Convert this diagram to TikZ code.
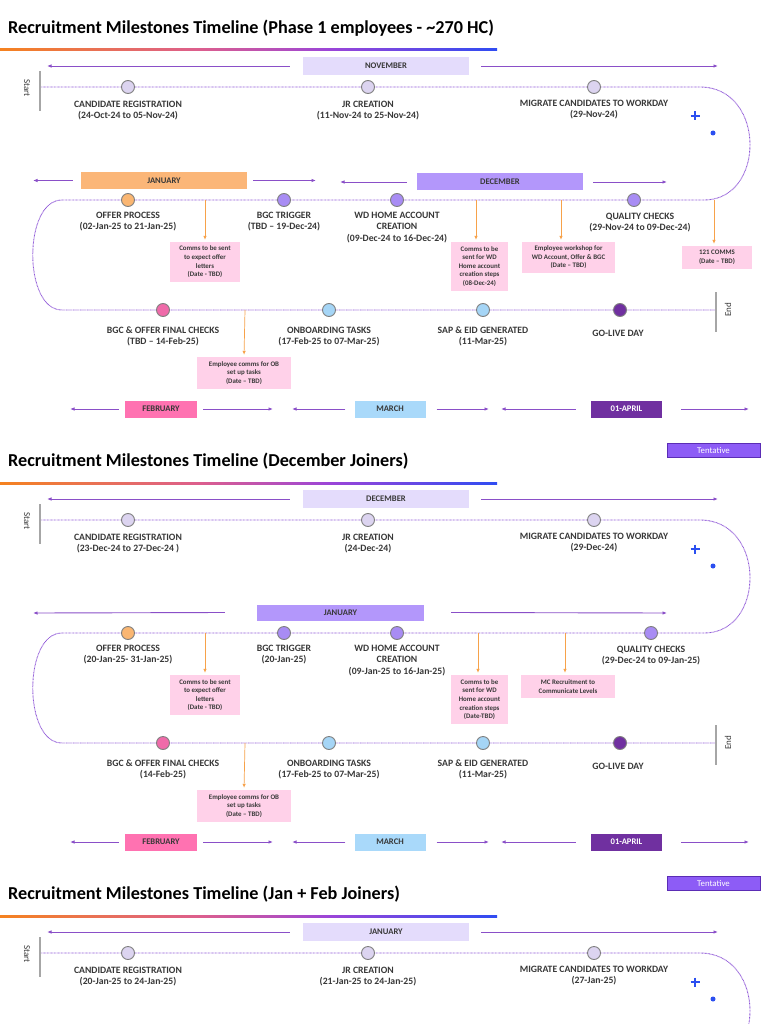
\documentclass[tikz,border=0pt]{standalone}
\usepackage{fontspec}
\setmainfont{Carlito}
\usetikzlibrary{arrows.meta}
\definecolor{gOrange}{HTML}{F5821F}
\definecolor{gPink}{HTML}{DC5E8E}
\definecolor{gPurple}{HTML}{9B45D8}
\definecolor{gBlue}{HTML}{2F4CF2}
\definecolor{lavbox}{HTML}{E4DCFC}
\definecolor{lavnode}{HTML}{DCD4F0}
\definecolor{nodeline}{HTML}{7F7F7F}
\definecolor{orangebox}{HTML}{FBB678}
\definecolor{orangenode}{HTML}{FAB672}
\definecolor{purplebox}{HTML}{B397FB}
\definecolor{purplenode}{HTML}{A88CF4}
\definecolor{pinknode}{HTML}{EF6AA9}
\definecolor{pinkbox}{HTML}{FF72B1}
\definecolor{bluebox}{HTML}{A9D9FA}
\definecolor{bluenode}{HTML}{A5D5F6}
\definecolor{darkpurple}{HTML}{7030A0}
\definecolor{notepink}{HTML}{FFD1E9}
\definecolor{orangearr}{HTML}{F7A24A}
\definecolor{linepurple}{HTML}{9058D8}
\definecolor{arrowpurple}{HTML}{8A4FC8}
\definecolor{tentfill}{HTML}{8D5CF6}
\definecolor{tentdraw}{HTML}{5B2DB5}
\definecolor{plusblue}{HTML}{2B4FF0}
\definecolor{bargray}{HTML}{A6A6A6}
\definecolor{txt}{HTML}{383838}
\tikzset{
  ttl/.style={anchor=west, inner sep=0pt, text=black, font=\bfseries\fontsize{18.2}{21}\selectfont},
  lbl/.style={anchor=north, inner sep=0pt, align=center, text=txt, font=\bfseries\fontsize{9.7}{11.5}\selectfont},
  ms/.style={circle, draw=nodeline, line width=0.9pt, minimum size=13pt, inner sep=0pt},
  monthbox/.style={inner sep=0pt, text=txt, font=\bfseries\fontsize{8.6}{10}\selectfont},
  note/.style={fill=notepink, inner sep=0pt, align=center, text=txt, font=\bfseries\fontsize{6.9}{8.6}\selectfont},
  marr/.style={draw=arrowpurple, line width=0.9pt, -{Latex[length=4.5pt,width=3.5pt]}},
  oarr/.style={draw=orangearr, line width=0.7pt, shorten >=2pt, -{Latex[length=4pt,width=3.5pt]}},
  tl/.style={draw=linepurple, line width=0.9pt, dash pattern=on 0.8pt off 0.6pt},
  barline/.style={draw=bargray, line width=1.3pt},
  sidelbl/.style={inner sep=0pt, text=txt, font=\fontsize{9}{10}\selectfont},
  tent/.style={fill=tentfill, draw=tentdraw, line width=1pt, text=white, inner sep=0pt,
    minimum width=93pt, minimum height=14pt, font=\fontsize{8.8}{10}\selectfont},
  plusmark/.style={draw=plusblue, line width=1.3pt},
}
\newcommand{\sectop}[6]{%
  \node[ttl] (#1title) at (8,28) {#2};
  \shade[left color=gOrange, right color=gPink] (0,49) rectangle (200,51);
  \shade[left color=gPink, right color=gPurple] (200,49) rectangle (330,51);
  \shade[left color=gPurple, right color=gBlue] (330,49) rectangle (497,51);
  \coordinate (#1stA) at (40,71); \coordinate (#1stB) at (40,111);
  \draw[barline] (#1stA) -- (#1stB);
  \node[sidelbl, rotate=-90] (#1startlbl) at (27,88) {Start};
  \node[monthbox, fill=lavbox, minimum width=166pt, minimum height=18pt] (#1mA) at (386,66) {#3};
  \coordinate (#1mAl) at (47,66); \coordinate (#1mAr) at (718,66);
  \draw[marr] ([xshift=-13pt]#1mA.west) -- (#1mAl);
  \draw[marr] ([xshift=12pt]#1mA.east) -- (#1mAr);
  \node[ms, fill=lavnode] (#1cr) at (128,87) {};
  \node[lbl] (#1crl) at (128,100.5) {CANDIDATE REGISTRATION\\#4};
  \node[ms, fill=lavnode] (#1jr) at (368,87) {};
  \node[lbl] (#1jrl) at (368,100.5) {JR CREATION\\#5};
  \node[ms, fill=lavnode] (#1mg) at (594,87) {};
  \node[lbl] (#1mgl) at (594,99.5) {MIGRATE CANDIDATES TO WORKDAY\\#6};
  \draw[plusmark] (690.5,116) -- (699.5,116) (695,111.5) -- (695,120.5);
  \fill[plusblue] (713,133) circle (2.5);
}
\newcommand{\monthsbottom}[1]{%
  \node[monthbox, fill=pinkbox, minimum width=72pt, minimum height=17pt] (#1feb) at (161,409) {FEBRUARY};
  \coordinate (#1febl) at (70,409); \coordinate (#1febr) at (273,409);
  \draw[marr] ([xshift=-6pt]#1feb.west) -- (#1febl);
  \draw[marr] ([xshift=6pt]#1feb.east) -- (#1febr);
  \node[monthbox, fill=bluebox, minimum width=71pt, minimum height=17pt] (#1mar) at (390,409) {MARCH};
  \coordinate (#1marl) at (292,409); \coordinate (#1marr) at (489,409);
  \draw[marr] ([xshift=-9pt]#1mar.west) -- (#1marl);
  \draw[marr] ([xshift=11pt]#1mar.east) -- (#1marr);
  \node[monthbox, fill=darkpurple, text=white, minimum width=71pt, minimum height=17pt] (#1apr) at (626.5,409) {01-APRIL};
  \coordinate (#1aprl) at (501,409); \coordinate (#1aprr) at (749,409);
  \draw[marr] ([xshift=-15pt]#1apr.west) -- (#1aprl);
  \draw[marr] ([xshift=19pt]#1apr.east) -- (#1aprr);
}
\newcommand{\rowthree}[2]{% prefix, bgc date line
  \coordinate (#1enA) at (716,292); \coordinate (#1enB) at (716,332);
  \draw[barline] (#1enA) -- (#1enB);
  \node[sidelbl, rotate=90] (#1endlbl) at (728,310) {End};
  \node[ms, fill=pinknode] (#1bo) at (163,310) {};
  \node[lbl] (#1bol) at (163,326.5) {BGC \& OFFER FINAL CHECKS\\#2};
  \node[ms, fill=bluenode] (#1ob) at (329,310) {};
  \node[lbl] (#1obl) at (329,326.5) {ONBOARDING TASKS\\(17-Feb-25 to 07-Mar-25)};
  \node[ms, fill=bluenode] (#1sap) at (483,310) {};
  \node[lbl] (#1sapl) at (483,326.5) {SAP \& EID GENERATED\\(11-Mar-25)};
  \node[ms, fill=darkpurple] (#1go) at (620,310) {};
  \node[lbl] (#1gol) at (618,329.5) {GO-LIVE DAY};
  \coordinate (#1o5) at (245,310);
  \node[note, minimum width=94pt, minimum height=32pt] (#1n5) at (244,373) {Employee comms for OB\\set up tasks\\(Date -- TBD)};
  \draw[oarr] (#1o5) -- (#1n5.north);
}
\begin{document}
\begin{tikzpicture}[x=1pt,y=-1pt]
\clip (0,0) rectangle (768,1024);
\fill[white] (0,0) rectangle (768,1024);

%================ SECTION 1 =================
\begin{scope}
  \coordinate (As) at (40,87); \coordinate (Ae) at (716,310);
  \draw[tl] (As) -- (700,87) .. controls (766,87) and (766,200) .. (704,200)
     -- (62,200) .. controls (23,200) and (23,310) .. (62,310) -- (Ae);
  \sectop{A}{Recruitment Milestones Timeline (Phase 1 employees - \textasciitilde270 HC)}{NOVEMBER}{(24-Oct-24 to 05-Nov-24)}{(11-Nov-24 to 25-Nov-24)}{(29-Nov-24)}
  % row 2 months
  \node[monthbox, fill=orangebox, minimum width=166pt, minimum height=17pt] (Ajan) at (164,180.5) {JANUARY};
  \coordinate (Ajanl) at (33,180.5); \coordinate (Ajanr) at (316,180.5);
  \draw[marr] ([xshift=-8pt]Ajan.west) -- (Ajanl);
  \draw[marr] ([xshift=6pt]Ajan.east) -- (Ajanr);
  \node[monthbox, fill=purplebox, minimum width=166pt, minimum height=17pt] (Adec) at (500,182) {DECEMBER};
  \coordinate (Adecl) at (340,182); \coordinate (Adecr) at (667,182);
  \draw[marr] ([xshift=-10pt]Adec.west) -- (Adecl);
  \draw[marr] ([xshift=10pt]Adec.east) -- (Adecr);
  % row 2 milestones
  \node[ms, fill=orangenode] (Aof) at (128,200) {};
  \node[lbl] (Aofl) at (128,211.5) {OFFER PROCESS\\(02-Jan-25 to 21-Jan-25)};
  \node[ms, fill=purplenode] (Abgc) at (284,200) {};
  \node[lbl] (Abgcl) at (284,211.5) {BGC TRIGGER\\(TBD -- 19-Dec-24)};
  \node[ms, fill=purplenode] (Awd) at (397,200) {};
  \node[lbl] (Awdl) at (397,211.5) {WD HOME ACCOUNT\\CREATION\\(09-Dec-24 to 16-Dec-24)};
  \node[ms, fill=purplenode] (Aqc) at (634,200) {};
  \node[lbl] (Aqcl) at (640,212.5) {QUALITY CHECKS\\(29-Nov-24 to 09-Dec-24)};
  % notes
  \coordinate (Ao1) at (205,200);
  \node[note, minimum width=70pt, minimum height=40pt] (An1) at (205,262) {Comms to be sent\\to expect offer\\letters\\(Date - TBD)};
  \draw[oarr] (Ao1) -- (An1.north);
  \coordinate (Ao2) at (476,200);
  \node[note, minimum width=57pt, minimum height=49pt] (An2) at (479.5,266.5) {Comms to be\\sent for WD\\Home account\\creation steps\\(08-Dec-24)};
  \draw[oarr] (Ao2) -- (Ao2 |- An2.north);
  \coordinate (Ao3) at (561,200);
  \node[note, minimum width=93pt, minimum height=31pt] (An3) at (568.5,257.5) {Employee workshop for\\WD Account, Offer \& BGC\\(Date -- TBD)};
  \draw[oarr] (Ao3) -- (Ao3 |- An3.north);
  \coordinate (Ao4) at (714,200);
  \node[note, minimum width=70pt, minimum height=23pt] (An4) at (717,257.5) {121 COMMS\\(Date -- TBD)};
  \draw[oarr] (Ao4) -- (Ao4 |- An4.north);
  \rowthree{A}{(TBD -- 14-Feb-25)}
  \monthsbottom{A}
  \node[tent] (Atent) at (713.5,450) {Tentative};
\end{scope}

%================ SECTION 2 =================
\begin{scope}[yshift=-433pt]
  \coordinate (Bs) at (40,87); \coordinate (Be) at (716,310);
  \draw[tl] (Bs) -- (700,87) .. controls (766,87) and (766,200) .. (704,200)
     -- (62,200) .. controls (23,200) and (23,310) .. (62,310) -- (Be);
  \sectop{B}{Recruitment Milestones Timeline (December Joiners)}{DECEMBER}{(23-Dec-24 to 27-Dec-24 )}{(24-Dec-24)}{(29-Dec-24)}
  \node[monthbox, fill=purplebox, minimum width=167pt, minimum height=16pt] (Bjan) at (340.5,179.5) {JANUARY};
  \coordinate (Bjanl) at (33,180); \coordinate (Bjanr) at (667,180);
  \draw[marr] ([xshift=-32pt]Bjan.west) -- (Bjanl);
  \draw[marr] ([xshift=27pt]Bjan.east) -- (Bjanr);
  \node[ms, fill=orangenode] (Bof) at (128,200) {};
  \node[lbl] (Bofl) at (128,211.5) {OFFER PROCESS\\(20-Jan-25- 31-Jan-25)};
  \node[ms, fill=purplenode] (Bbgc) at (284,200) {};
  \node[lbl] (Bbgcl) at (284,211.5) {BGC TRIGGER\\(20-Jan-25)};
  \node[ms, fill=purplenode] (Bwd) at (397,200) {};
  \node[lbl] (Bwdl) at (397,211.5) {WD HOME ACCOUNT\\CREATION\\(09-Jan-25 to 16-Jan-25)};
  \node[ms, fill=purplenode] (Bqc) at (651,200) {};
  \node[lbl] (Bqcl) at (651,212.5) {QUALITY CHECKS\\(29-Dec-24 to 09-Jan-25)};
  \coordinate (Bo1) at (205,200);
  \node[note, minimum width=70pt, minimum height=40pt] (Bn1) at (205,262) {Comms to be sent\\to expect offer\\letters\\(Date - TBD)};
  \draw[oarr] (Bo1) -- (Bn1.north);
  \coordinate (Bo2) at (478,200);
  \node[note, minimum width=57pt, minimum height=49pt] (Bn2) at (479.5,266.5) {Comms to be\\sent for WD\\Home account\\creation steps\\(Date-TBD)};
  \draw[oarr] (Bo2) -- (Bo2 |- Bn2.north);
  \coordinate (Bo3) at (565,200);
  \node[note, minimum width=94pt, minimum height=23pt] (Bn3) at (568,253.5) {MC Recruitment to\\Communicate Levels};
  \draw[oarr] (Bo3) -- (Bo3 |- Bn3.north);
  \rowthree{B}{(14-Feb-25)}
  \monthsbottom{B}
  \node[tent] (Btent) at (713.5,450) {Tentative};
\end{scope}

%================ SECTION 3 =================
\begin{scope}[yshift=-866pt]
  \coordinate (Cs) at (40,87);
  \draw[tl] (Cs) -- (700,87) .. controls (766,87) and (766,200) .. (704,200);
  \sectop{C}{Recruitment Milestones Timeline (Jan + Feb Joiners)}{JANUARY}{(20-Jan-25 to 24-Jan-25)}{(21-Jan-25 to 24-Jan-25)}{(27-Jan-25)}
\end{scope}
\end{tikzpicture}
\end{document}
